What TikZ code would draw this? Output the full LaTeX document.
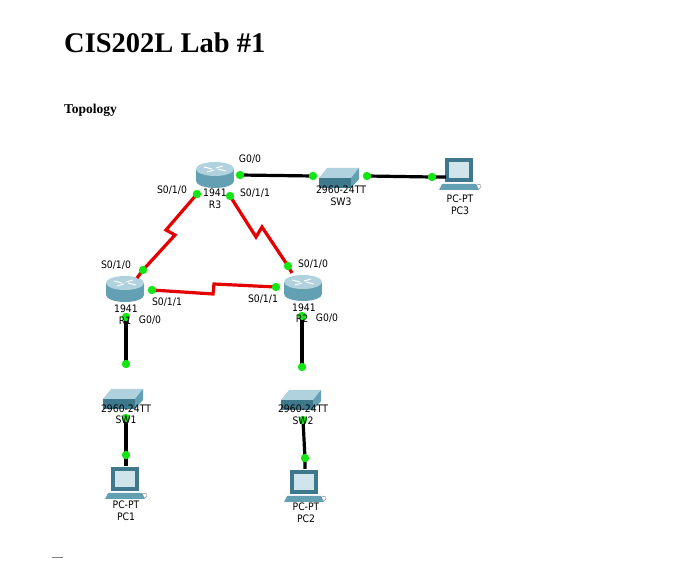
\documentclass[tikz,border=0pt]{standalone}
\usepackage{fontspec}
\setmainfont{Liberation Serif}
\newfontfamily\lab{DejaVu Sans Condensed}
\definecolor{tdark}{RGB}{62,120,140}
\definecolor{tmid}{RGB}{100,160,180}
\definecolor{tlight}{RGB}{175,210,222}
\definecolor{gdot}{RGB}{20,230,20}
\begin{document}
\begin{tikzpicture}[x=1pt,y=-1pt,
  eth/.style={line width=3.2pt,black},
  ser/.style={line width=3.2pt,red!90!black},
  lbl/.style={font=\lab\fontsize{10.3}{11}\selectfont,inner sep=0},
  dev/.style={inner sep=0,minimum width=30pt,minimum height=18pt},
  router/.pic={
    \fill[tmid] (-19,0) rectangle (19,12);
    \fill[tmid] (0,12) ellipse[x radius=19pt,y radius=7pt];
    \fill[tlight] (0,0) ellipse[x radius=19pt,y radius=7pt];
    \draw[white,line width=1pt] (-11,-2)--(-3,0) (11,2)--(3,0) (-8,3)--(-1,1) (8,-3)--(1,-1);
  },
  switch/.pic={
    \fill[tdark] (-19,2) rectangle (13,12);
    \fill[tlight] (-19,2) -- (-11,-8) -- (21,-8) -- (13,2) -- cycle;
    \fill[tmid] (13,2) -- (21,-8) -- (21,3) -- (13,12) -- cycle;
  },
  pcpic/.pic={
    \fill[tdark] (-14,-17) rectangle (14,7);
    \fill[tlight!60!white] (-10,-13) rectangle (10,3);
    \fill[tmid] (-17,9) -- (17,9) -- (20,15) -- (-20,15) -- cycle;
    \draw[gray] (16,11) .. controls (22,7) and (24,11) .. (20,14);
  }]
\useasboundingbox (0,0) rectangle (689,561);
\node[anchor=west,font=\bfseries\fontsize{28.5}{30}\selectfont,inner sep=0] (title) at (64,43) {CIS202L Lab \#1};
\node[anchor=west,font=\bfseries\fontsize{13.5}{15}\selectfont,inner sep=0] (topo) at (64,110) {Topology};
\draw[line width=0.6pt,gray] (52,557) -- (63,557);

% devices
\pic at (215,169) {router}; \node[dev] (R3) at (215,175) {};
\pic at (125,283) {router}; \node[dev] (R1) at (125,290) {};
\pic at (303,282) {router}; \node[dev] (R2) at (303,289) {};
\pic at (338,176) {switch}; \node[dev] (SW3) at (340,172) {};
\pic at (122,397) {switch}; \node[dev] (SW1) at (125,393) {};
\pic at (300,398) {switch}; \node[dev] (SW2) at (303,393) {};
\pic at (459,175) {pcpic}; \node[dev] (PC3) at (459,177) {};
\pic at (125,484) {pcpic}; \node[dev] (PC1) at (125,483) {};
\pic at (304,487) {pcpic}; \node[dev] (PC2) at (304,486) {};

% connection points
\coordinate (r3g) at (240,175);
\coordinate (sw3a) at (313,176);
\coordinate (sw3b) at (367,176);
\coordinate (pc3) at (432,177);
\coordinate (r3a) at (197,194);
\coordinate (r3b) at (230,196);
\coordinate (r1a) at (143,270);
\coordinate (r1b) at (152,290);
\coordinate (r2a) at (288,266);
\coordinate (r2b) at (276,287);
\coordinate (r1g) at (126,317);
\coordinate (sw1a) at (126,364);
\coordinate (sw1b) at (126,418);
\coordinate (pc1) at (126,455);
\coordinate (r2g) at (302,316);
\coordinate (sw2a) at (302,367);
\coordinate (sw2b) at (303,420);
\coordinate (pc2) at (305,458);

% connectors
\draw[eth] (r3g) -- (sw3a);
\draw[eth] (sw3b) -- (pc3) -- (446,177);
\draw[eth] (r1g) -- (sw1a);
\draw[eth] (sw1b) -- (pc1) -- (126,466);
\draw[eth] (r2g) -- (sw2a);
\draw[eth] (sw2b) -- (pc2) -- (305,469);
\draw[ser] (r3a) -- (166,230) -- (175,235) -- (r1a) -- (137,278);
\draw[ser] (r3b) -- (256,237) -- (262,227) -- (r2a) -- (292,273);
\draw[ser] (r1b) -- (213,294) -- (214,284) -- (r2b);
\foreach \d in {r3g,sw3a,sw3b,pc3,r3a,r3b,r1a,r1b,r2a,r2b,r1g,sw1a,sw1b,pc1,r2g,sw2a,sw2b,pc2}
  \fill[gdot] (\d) circle (4.2);

% labels
\node[lbl] (l1) at (250,159) {G0/0};
\node[lbl] (l2) at (172,190) {S0/1/0};
\node[lbl] (l3) at (255,193) {S0/1/1};
\node[lbl] (l4) at (215,193) {1941};
\node[lbl] (l5) at (215,205) {R3};
\node[lbl] (l6) at (341,190) {2960-24TT};
\node[lbl] (l7) at (341,202) {SW3};
\node[lbl] (l8) at (460,199) {PC-PT};
\node[lbl] (l9) at (460,211) {PC3};
\node[lbl] (l10) at (116,265) {S0/1/0};
\node[lbl] (l11) at (313,264) {S0/1/0};
\node[lbl] (l12) at (167,302) {S0/1/1};
\node[lbl] (l13) at (263,299) {S0/1/1};
\node[lbl] (l14) at (126,309) {1941};
\node[lbl] (l15) at (125,321) {R1};
\node[lbl] (l16) at (150,320) {G0/0};
\node[lbl] (l17) at (304,308) {1941};
\node[lbl] (l18) at (302,319) {R2};
\node[lbl] (l19) at (327,318) {G0/0};
\node[lbl] (l20) at (126,409) {2960-24TT};
\node[lbl] (l21) at (126,420) {SW1};
\node[lbl] (l22) at (303,409) {2960-24TT};
\node[lbl] (l23) at (303,421) {SW2};
\node[lbl] (l24) at (126,505) {PC-PT};
\node[lbl] (l25) at (126,517) {PC1};
\node[lbl] (l26) at (306,507) {PC-PT};
\node[lbl] (l27) at (306,519) {PC2};
\end{tikzpicture}
\end{document}
